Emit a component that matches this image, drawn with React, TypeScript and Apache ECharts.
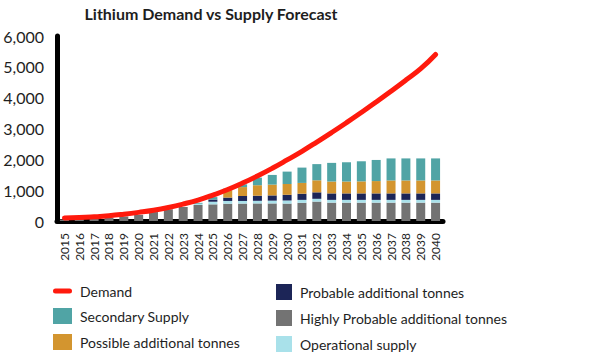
import React, { useEffect, useRef } from "react";
import * as echarts from "echarts";

const years = ["2015","2016","2017","2018","2019","2020","2021","2022","2023","2024","2025","2026","2027","2028","2029","2030","2031","2032","2033","2034","2035","2036","2037","2038","2039","2040"];

const demand = [100,110,135,170,220,280,350,440,550,680,840,1020,1230,1460,1710,1980,2260,2560,2870,3190,3520,3860,4210,4570,4940,5400];

const highlyProbable = [50,60,80,110,150,200,290,380,455,520,540,560,565,570,570,565,590,630,595,595,595,595,595,595,595,595];
const operational = [0,0,0,0,0,0,0,0,0,40,85,90,85,85,90,100,95,90,90,90,90,90,90,90,90,90];
const probable = [0,0,0,0,0,0,0,0,0,0,70,110,160,165,170,185,200,210,210,210,210,210,210,210,210,210];
const possible = [0,0,0,0,0,0,0,0,0,0,0,240,290,340,350,350,350,390,385,385,390,400,420,420,420,420];
const secondary = [0,0,0,0,0,0,0,0,0,30,80,50,90,246,314,402,497,525,605,625,652,685,715,715,715,715];

const yTicks = [0, 1000, 2000, 3000, 4000, 5000, 6000];

const FONT = "Lato";
const TXT = "#1e1e1e";

export default function App() {
  const ref = useRef<HTMLDivElement>(null);
  useEffect(() => {
    if (!ref.current) return;
    const chart = echarts.init(ref.current, null, { renderer: "svg" });
    const barBase = { type: "bar", stack: "supply", barWidth: 9 };
    const legendText = { fontFamily: FONT, fontSize: 14, color: TXT, padding: [0, 0, 0, 3] };
    chart.setOption({
      animation: false,
      textStyle: { fontFamily: FONT },
      title: {
        text: "Lithium Demand vs Supply Forecast",
        left: 211,
        top: 5,
        padding: 0,
        textAlign: "center",
        textStyle: { fontFamily: FONT, fontWeight: "bold", fontSize: 16, color: TXT },
      },
      grid: { left: 57, right: 157, top: 36, bottom: 133, containLabel: false },
      legend: [
        {
          orient: "vertical",
          left: 53,
          top: 284,
          padding: 0,
          itemWidth: 19,
          itemHeight: 16,
          itemGap: 10,
          textStyle: legendText,
          data: [
            { name: "Demand", icon: "path://M2.5,0 L16.5,0 A2.5,2.5 0 0 1 16.5,5 L2.5,5 A2.5,2.5 0 0 1 2.5,0 Z" },
            { name: "Secondary Supply", icon: "rect" },
            { name: "Possible additional tonnes", icon: "rect" },
          ],
        },
        {
          orient: "vertical",
          left: 276,
          top: 284,
          padding: 0,
          itemWidth: 16,
          itemHeight: 16,
          itemGap: 10,
          textStyle: legendText,
          data: [
            { name: "Probable additional tonnes", icon: "rect" },
            { name: "Highly Probable additional tonnes", icon: "rect" },
            { name: "Operational supply", icon: "rect" },
          ],
        },
      ],
      xAxis: {
        type: "category",
        data: years,
        axisLine: { show: true, lineStyle: { color: "#000", width: 5 } },
        axisTick: { show: false },
        axisLabel: { rotate: 90, interval: 0, fontSize: 12, color: TXT, margin: 12, fontFamily: FONT },
      },
      yAxis: {
        type: "value",
        min: yTicks[0],
        max: yTicks[yTicks.length - 1],
        interval: 1000,
        axisLine: { show: true, lineStyle: { color: "#000", width: 5 } },
        axisTick: { show: false },
        splitLine: { show: false },
        axisLabel: {
          fontSize: 16,
          color: TXT,
          margin: 13,
          fontFamily: FONT,
          formatter: (v: number) => v.toLocaleString("en-US"),
        },
      },
      series: [
        { ...barBase, name: "Highly Probable additional tonnes", data: highlyProbable, itemStyle: { color: "#737373" } },
        { ...barBase, name: "Operational supply", data: operational, itemStyle: { color: "#a9e1ea" } },
        { ...barBase, name: "Probable additional tonnes", data: probable, itemStyle: { color: "#1c2557" } },
        { ...barBase, name: "Possible additional tonnes", data: possible, itemStyle: { color: "#d3952f" } },
        { ...barBase, name: "Secondary Supply", data: secondary, itemStyle: { color: "#50a4a5" } },
        {
          type: "line",
          name: "Demand",
          data: demand,
          smooth: true,
          showSymbol: false,
          symbol: "none",
          z: 10,
          lineStyle: { color: "#ff1a0d", width: 5, cap: "round" },
          itemStyle: { color: "#ff1a0d" },
        },
      ],
    });
    return () => chart.dispose();
  }, []);
  return <div ref={ref} style={{ width: 600, height: 354, position: "absolute", left: 0, top: 0 }} />;
}
